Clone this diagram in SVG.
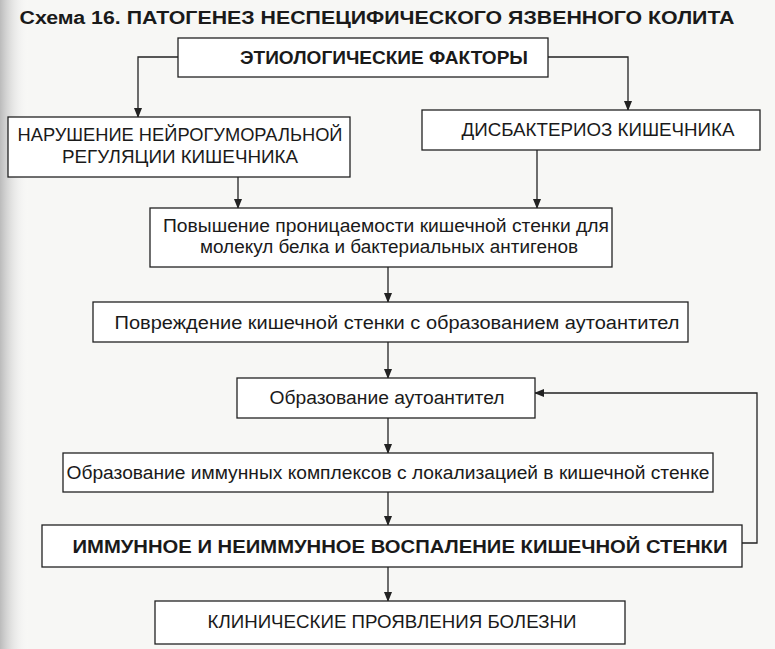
<svg xmlns="http://www.w3.org/2000/svg" width="775" height="649" viewBox="0 0 775 649">
<defs>
<marker id="ar" markerWidth="10" markerHeight="10" refX="9" refY="5" orient="auto" markerUnits="userSpaceOnUse"><path d="M0,1 L10,5 L0,9 Z" fill="#222"/></marker>
<linearGradient id="edge" x1="0" x2="1"><stop offset="0" stop-color="#bbb"/><stop offset="1" stop-color="#fff" stop-opacity="0"/></linearGradient>
</defs>
<style>
rect{fill:#fff;stroke:#222;stroke-width:1.3}
text{font-family:"Liberation Sans",Arial,sans-serif;font-size:18px;fill:#1a1a1a;text-anchor:middle}
.b{font-weight:bold}
.c path{fill:none;stroke:#222;stroke-width:1.3;marker-end:url(#ar)}
</style>
<rect x="0" y="0" width="775" height="649" style="fill:#f7f7f5;stroke:none"/>
<rect x="0" y="0" width="30" height="649" style="fill:url(#edge);stroke:none"/>
<text x="377" y="24" class="b" style="font-size:18px" textLength="715" lengthAdjust="spacingAndGlyphs">Схема 16. ПАТОГЕНЕЗ НЕСПЕЦИФИЧЕСКОГО ЯЗВЕННОГО КОЛИТА</text>
<g class="c">
<path d="M178,57 H138 V117"/>
<path d="M548,57 H628 V110"/>
<path d="M238,177 V208"/>
<path d="M537,150 V208"/>
<path d="M388,267 V302"/>
<path d="M388,342 V378"/>
<path d="M388,418 V453"/>
<path d="M388,492 V525"/>
<path d="M388,567 V601"/>
<path d="M742,543 H757 V393 H535"/>
</g>
<g id="n1"><rect x="178" y="38" width="370" height="39"/><text x="384" y="64" class="b" textLength="288" lengthAdjust="spacingAndGlyphs">ЭТИОЛОГИЧЕСКИЕ ФАКТОРЫ</text></g>
<g id="n2"><rect x="8" y="117" width="342" height="60"/><text x="180" y="141" textLength="325" lengthAdjust="spacingAndGlyphs">НАРУШЕНИЕ НЕЙРОГУМОРАЛЬНОЙ</text><text x="180" y="163" textLength="236" lengthAdjust="spacingAndGlyphs">РЕГУЛЯЦИИ КИШЕЧНИКА</text></g>
<g id="n3"><rect x="422" y="110" width="338" height="40"/><text x="598" y="136" textLength="273" lengthAdjust="spacingAndGlyphs">ДИСБАКТЕРИОЗ КИШЕЧНИКА</text></g>
<g id="n4"><rect x="150" y="208" width="462" height="59"/><text x="386" y="232" textLength="446" lengthAdjust="spacingAndGlyphs">Повышение проницаемости кишечной стенки для</text><text x="389" y="253" textLength="378" lengthAdjust="spacingAndGlyphs">молекул белка и бактериальных антигенов</text></g>
<g id="n5"><rect x="93" y="302" width="595" height="40"/><text x="397" y="329" textLength="565" lengthAdjust="spacingAndGlyphs">Повреждение кишечной стенки с образованием аутоантител</text></g>
<g id="n6"><rect x="237" y="378" width="298" height="40"/><text x="387" y="404" textLength="235" lengthAdjust="spacingAndGlyphs">Образование аутоантител</text></g>
<g id="n7"><rect x="63" y="453" width="650" height="39"/><text x="388" y="479" textLength="643" lengthAdjust="spacingAndGlyphs">Образование иммунных комплексов с локализацией в кишечной стенке</text></g>
<g id="n8"><rect x="42" y="525" width="700" height="42"/><text x="400" y="553" class="b" textLength="655" lengthAdjust="spacingAndGlyphs">ИММУННОЕ И НЕИММУННОЕ ВОСПАЛЕНИЕ КИШЕЧНОЙ СТЕНКИ</text></g>
<g id="n9"><rect x="155" y="601" width="470" height="43"/><text x="392" y="628" textLength="369" lengthAdjust="spacingAndGlyphs">КЛИНИЧЕСКИЕ ПРОЯВЛЕНИЯ БОЛЕЗНИ</text></g>
</svg>
